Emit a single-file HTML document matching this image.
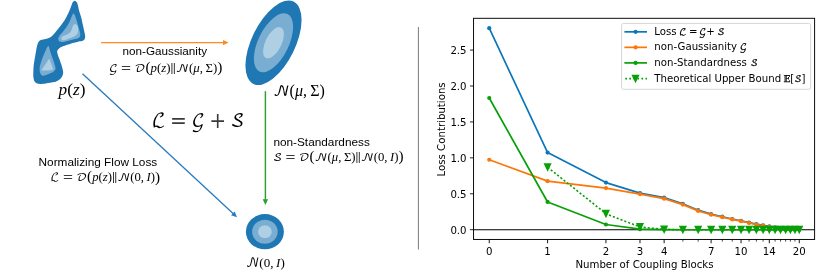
<!DOCTYPE html>
<html><head><meta charset="utf-8"><title>Loss decomposition</title>
<style>html,body{margin:0;padding:0;background:#fff}svg{display:block}</style></head>
<body>
<svg width="830" height="272" viewBox="0 0 830 272">
<defs><clipPath id="axclip"><rect x="473.55" y="18.3" width="341.05" height="221.14999999999998"/></clipPath></defs>
<rect width="830" height="272" fill="#fff"/>
<path d="M74.70 0.70C75.37 0.70 76.27 1.43 76.80 2.20C77.33 2.97 77.50 3.83 77.90 5.30C78.30 6.77 78.65 8.95 79.20 11.00C79.75 13.05 80.53 15.02 81.20 17.60C81.87 20.18 82.58 23.72 83.20 26.50C83.82 29.28 84.60 32.38 84.90 34.30C85.20 36.22 85.28 36.95 85.00 38.00C84.72 39.05 84.37 39.97 83.20 40.60C82.03 41.23 80.20 41.25 78.00 41.80C75.80 42.35 72.42 43.18 70.00 43.90C67.58 44.62 65.20 45.42 63.50 46.10C61.80 46.78 60.83 47.22 59.80 48.00C58.77 48.78 57.67 49.80 57.30 50.80C56.93 51.80 57.33 52.83 57.60 54.00C57.87 55.17 58.28 56.05 58.90 57.80C59.52 59.55 60.60 62.22 61.30 64.50C62.00 66.78 62.87 69.75 63.10 71.50C63.33 73.25 63.07 73.87 62.70 75.00C62.33 76.13 61.68 77.37 60.90 78.30C60.12 79.23 59.08 79.97 58.00 80.60C56.92 81.23 56.43 81.63 54.40 82.10C52.37 82.57 48.12 83.10 45.80 83.40C43.48 83.70 42.05 83.92 40.50 83.90C38.95 83.88 37.53 83.78 36.50 83.30C35.47 82.82 34.82 82.05 34.30 81.00C33.78 79.95 33.57 78.28 33.40 77.00C33.23 75.72 33.23 75.38 33.30 73.30C33.37 71.22 33.47 67.45 33.80 64.50C34.13 61.55 34.83 58.35 35.30 55.60C35.77 52.85 36.18 50.02 36.60 48.00C37.02 45.98 37.35 44.67 37.80 43.50C38.25 42.33 38.67 41.62 39.30 41.00C39.93 40.38 40.57 40.13 41.60 39.80C42.63 39.47 44.18 39.33 45.50 39.00C46.82 38.67 48.33 38.37 49.50 37.80C50.67 37.23 51.42 36.65 52.50 35.60C53.58 34.55 54.75 33.02 56.00 31.50C57.25 29.98 58.83 28.00 60.00 26.50C61.17 25.00 61.97 23.98 63.00 22.50C64.03 21.02 65.12 19.58 66.20 17.60C67.28 15.62 68.62 12.65 69.50 10.60C70.38 8.55 70.95 6.70 71.50 5.30C72.05 3.90 72.27 2.97 72.80 2.20C73.33 1.43 74.03 0.70 74.70 0.70Z" fill="#1f77b4"/>
<path d="M73.80 13.50C74.45 14.00 75.23 16.33 76.00 18.50C76.77 20.67 77.73 24.17 78.40 26.50C79.07 28.83 79.70 30.95 80.00 32.50C80.30 34.05 80.43 34.90 80.20 35.80C79.97 36.70 79.63 37.32 78.60 37.90C77.57 38.48 75.77 38.82 74.00 39.30C72.23 39.78 69.83 40.37 68.00 40.80C66.17 41.23 64.40 41.78 63.00 41.90C61.60 42.02 60.40 41.98 59.60 41.50C58.80 41.02 58.20 39.98 58.20 39.00C58.20 38.02 58.72 36.93 59.60 35.60C60.48 34.27 62.23 32.60 63.50 31.00C64.77 29.40 66.12 27.72 67.20 26.00C68.28 24.28 69.18 22.45 70.00 20.70C70.82 18.95 71.47 16.70 72.10 15.50C72.73 14.30 73.15 13.00 73.80 13.50Z" fill="#79add2"/><path d="M75.20 24.00C75.92 24.07 76.90 25.00 77.40 26.00C77.90 27.00 78.18 28.73 78.20 30.00C78.22 31.27 78.07 32.57 77.50 33.60C76.93 34.63 76.23 35.40 74.80 36.20C73.37 37.00 70.53 37.77 68.90 38.40C67.27 39.03 66.10 39.70 65.00 40.00C63.90 40.30 62.92 40.43 62.30 40.20C61.68 39.97 61.30 39.23 61.30 38.60C61.30 37.97 61.35 37.10 62.30 36.40C63.25 35.70 65.67 35.10 67.00 34.40C68.33 33.70 69.48 33.10 70.30 32.20C71.12 31.30 71.43 30.10 71.90 29.00C72.37 27.90 72.55 26.43 73.10 25.60C73.65 24.77 74.48 23.93 75.20 24.00Z" fill="#afcfe5"/><path d="M48.60 46.20C49.03 46.67 49.30 48.43 49.80 50.00C50.30 51.57 50.87 53.43 51.60 55.60C52.33 57.77 53.57 61.03 54.20 63.00C54.83 64.97 55.23 66.27 55.40 67.40C55.57 68.53 55.67 69.00 55.20 69.80C54.73 70.60 53.80 71.47 52.60 72.20C51.40 72.93 49.35 73.63 48.00 74.20C46.65 74.77 45.50 75.40 44.50 75.60C43.50 75.80 42.67 75.70 42.00 75.40C41.33 75.10 40.88 74.53 40.50 73.80C40.12 73.07 39.83 72.13 39.70 71.00C39.57 69.87 39.52 68.33 39.70 67.00C39.88 65.67 40.37 64.42 40.80 63.00C41.23 61.58 41.57 60.42 42.30 58.50C43.03 56.58 44.38 53.38 45.20 51.50C46.02 49.62 46.63 48.08 47.20 47.20C47.77 46.32 48.17 45.73 48.60 46.20Z" fill="#79add2"/><path d="M49.40 59.00C49.80 59.33 50.07 60.58 50.60 62.00C51.13 63.42 52.20 66.30 52.60 67.50C53.00 68.70 53.18 68.80 53.00 69.20C52.82 69.60 52.83 69.67 51.50 69.90C50.17 70.13 46.53 70.48 45.00 70.60C43.47 70.72 42.83 70.77 42.30 70.60C41.77 70.43 41.60 70.20 41.80 69.60C42.00 69.00 42.75 68.10 43.50 67.00C44.25 65.90 45.52 64.17 46.30 63.00C47.08 61.83 47.68 60.67 48.20 60.00C48.72 59.33 49.00 58.67 49.40 59.00Z" fill="#afcfe5"/>
<ellipse cx="273.5" cy="42.75" rx="45.80" ry="21.80" transform="rotate(-64 273.5 42.75)" fill="#1f77b4"/>
<ellipse cx="273.5" cy="42.75" rx="32.06" ry="15.26" transform="rotate(-64 273.5 42.75)" fill="#79add2"/>
<ellipse cx="273.5" cy="42.75" rx="17.04" ry="8.11" transform="rotate(-64 273.5 42.75)" fill="#afcfe5"/>
<ellipse cx="264.9" cy="231.7" rx="19" ry="17.6" fill="#1f77b4"/>
<ellipse cx="264.9" cy="231.7" rx="12.8" ry="12.0" fill="#79add2"/>
<ellipse cx="264.9" cy="231.7" rx="6.9" ry="6.35" fill="#afcfe5"/>
<line x1="101.00" y1="42.60" x2="224.00" y2="42.60" stroke="#ff8a25" stroke-width="1.45"/><path d="M228.60 42.60L223.00 45.30L223.00 39.90Z" fill="#ff8a25"/>
<line x1="265.40" y1="91.20" x2="265.40" y2="200.30" stroke="#2ca02c" stroke-width="1.45"/><path d="M265.40 204.90L262.70 199.30L268.10 199.30Z" fill="#2ca02c"/>
<line x1="82.50" y1="73.80" x2="233.63" y2="214.07" stroke="#2a7abf" stroke-width="1.3"/><path d="M237.00 217.20L231.06 215.37L234.73 211.41Z" fill="#2a7abf"/>
<line x1="418.4" x2="418.4" y1="27" y2="249.5" stroke="#7a7a7a" stroke-width="1"/>
<text x="164.8" y="55.3" text-anchor="middle" font-family="'Liberation Sans', sans-serif" font-size="11.7" fill="#000">non-Gaussianity</text>
<text x="97.9" y="166.4" text-anchor="middle" font-family="'Liberation Sans', sans-serif" font-size="11.8" fill="#000">Normalizing Flow Loss</text>
<text x="273.4" y="146.1" font-family="'Liberation Sans', sans-serif" font-size="11.8" fill="#000">non-Standardness</text>
<text x="108.7" y="71.5" font-family="'Liberation Serif', serif" font-size="12.5" fill="#000" textLength="113.6" lengthAdjust="spacingAndGlyphs"><tspan font-family="'DejaVu Math TeX Gyre','DejaVu Serif',serif" font-size="0.92em">𝒢</tspan> <tspan font-family="'DejaVu Math TeX Gyre','DejaVu Serif',serif" font-size="1.04em" fill="#3a3a3a">=</tspan> <tspan font-family="'DejaVu Math TeX Gyre','DejaVu Serif',serif" font-size="0.92em">𝒟</tspan><tspan font-size="1.2em" dy="0.03em">(</tspan><tspan dy="-0.036em"><tspan font-style="italic">p</tspan></tspan>(<tspan font-style="italic">z</tspan>)<tspan font-family="'DejaVu Math TeX Gyre','DejaVu Serif',serif">‖</tspan><tspan font-family="'DejaVu Math TeX Gyre','DejaVu Serif',serif" font-size="0.92em">𝒩</tspan>(<tspan font-style="italic">μ</tspan>, Σ)<tspan font-size="1.2em" dy="0.035em">)</tspan></text>
<text x="50.5" y="181" font-family="'Liberation Serif', serif" font-size="12.5" fill="#000" textLength="109.7" lengthAdjust="spacingAndGlyphs"><tspan font-family="'DejaVu Math TeX Gyre','DejaVu Serif',serif" font-size="0.92em">ℒ</tspan> <tspan font-family="'DejaVu Math TeX Gyre','DejaVu Serif',serif" font-size="1.04em" fill="#3a3a3a">=</tspan> <tspan font-family="'DejaVu Math TeX Gyre','DejaVu Serif',serif" font-size="0.92em">𝒟</tspan><tspan font-size="1.2em" dy="0.03em">(</tspan><tspan dy="-0.036em"><tspan font-style="italic">p</tspan></tspan>(<tspan font-style="italic">z</tspan>)<tspan font-family="'DejaVu Math TeX Gyre','DejaVu Serif',serif">‖</tspan><tspan font-family="'DejaVu Math TeX Gyre','DejaVu Serif',serif" font-size="0.92em">𝒩</tspan>(0, <tspan font-style="italic">I</tspan>)<tspan font-size="1.2em" dy="0.035em">)</tspan></text>
<text x="273" y="160.8" font-family="'Liberation Serif', serif" font-size="12.5" fill="#000" textLength="130.6" lengthAdjust="spacingAndGlyphs"><tspan font-family="'DejaVu Math TeX Gyre','DejaVu Serif',serif" font-size="0.92em">𝒮</tspan> <tspan font-family="'DejaVu Math TeX Gyre','DejaVu Serif',serif" font-size="1.04em" fill="#3a3a3a">=</tspan> <tspan font-family="'DejaVu Math TeX Gyre','DejaVu Serif',serif" font-size="0.92em">𝒟</tspan><tspan font-size="1.2em" dy="0.03em">(</tspan><tspan dy="-0.036em"><tspan font-family="'DejaVu Math TeX Gyre','DejaVu Serif',serif" font-size="0.92em">𝒩</tspan></tspan>(<tspan font-style="italic">μ</tspan>, Σ)<tspan font-family="'DejaVu Math TeX Gyre','DejaVu Serif',serif">‖</tspan><tspan font-family="'DejaVu Math TeX Gyre','DejaVu Serif',serif" font-size="0.92em">𝒩</tspan>(0, <tspan font-style="italic">I</tspan>)<tspan font-size="1.2em" dy="0.035em">)</tspan></text>
<text x="152" y="126.5" font-family="'Liberation Serif', serif" font-size="21" fill="#000" textLength="92.1" lengthAdjust="spacingAndGlyphs"><tspan font-family="'DejaVu Math TeX Gyre','DejaVu Serif',serif" font-size="0.92em">ℒ</tspan> <tspan font-family="'DejaVu Math TeX Gyre','DejaVu Serif',serif" font-size="1.04em" fill="#3a3a3a">=</tspan> <tspan font-family="'DejaVu Math TeX Gyre','DejaVu Serif',serif" font-size="0.92em">𝒢</tspan> <tspan font-family="'DejaVu Math TeX Gyre','DejaVu Serif',serif" font-size="1.04em" fill="#3a3a3a">+</tspan> <tspan font-family="'DejaVu Math TeX Gyre','DejaVu Serif',serif" font-size="0.92em">𝒮</tspan></text>
<text x="58.6" y="95.2" font-family="'Liberation Serif', serif" font-size="16" fill="#000" textLength="26.8" lengthAdjust="spacingAndGlyphs"><tspan font-style="italic">p</tspan>(<tspan font-style="italic">z</tspan>)</text>
<text x="273.2" y="95.6" font-family="'Liberation Serif', serif" font-size="16" fill="#000" textLength="51.6" lengthAdjust="spacingAndGlyphs"><tspan font-family="'DejaVu Math TeX Gyre','DejaVu Serif',serif" font-size="0.92em">𝒩</tspan>(<tspan font-style="italic">μ</tspan>, Σ)</text>
<text x="246.0" y="266.5" font-family="'Liberation Serif', serif" font-size="13" fill="#000" textLength="38.8" lengthAdjust="spacingAndGlyphs"><tspan font-family="'DejaVu Math TeX Gyre','DejaVu Serif',serif" font-size="0.92em">𝒩</tspan>(0, <tspan font-style="italic">I</tspan>)</text>
<g clip-path="url(#axclip)">
<line x1="473.55" x2="814.6" y1="229.7" y2="229.7" stroke="#000" stroke-width="1.05"/>
<polyline points="489.25,28.15 547.60,152.57 605.95,182.59 639.99,193.10 664.14,197.64 682.87,203.83 698.18,210.17 711.12,214.13 722.33,216.72 732.22,219.02 741.06,220.82 749.06,222.62 756.37,224.13 763.09,225.36 769.31,226.44 775.10,227.30 780.52,227.95 785.61,228.53 790.41,228.96 794.95,229.32 799.25,229.53" fill="none" stroke="#0b77ba" stroke-width="1.7" stroke-linejoin="round"/>
<circle cx="489.25" cy="28.15" r="2.1" fill="#0b77ba"/><circle cx="547.60" cy="152.57" r="2.1" fill="#0b77ba"/><circle cx="605.95" cy="182.59" r="2.1" fill="#0b77ba"/><circle cx="639.99" cy="193.10" r="2.1" fill="#0b77ba"/><circle cx="664.14" cy="197.64" r="2.1" fill="#0b77ba"/><circle cx="682.87" cy="203.83" r="2.1" fill="#0b77ba"/><circle cx="698.18" cy="210.17" r="2.1" fill="#0b77ba"/><circle cx="711.12" cy="214.13" r="2.1" fill="#0b77ba"/><circle cx="722.33" cy="216.72" r="2.1" fill="#0b77ba"/><circle cx="732.22" cy="219.02" r="2.1" fill="#0b77ba"/><circle cx="741.06" cy="220.82" r="2.1" fill="#0b77ba"/><circle cx="749.06" cy="222.62" r="2.1" fill="#0b77ba"/><circle cx="756.37" cy="224.13" r="2.1" fill="#0b77ba"/><circle cx="763.09" cy="225.36" r="2.1" fill="#0b77ba"/><circle cx="769.31" cy="226.44" r="2.1" fill="#0b77ba"/><circle cx="775.10" cy="227.30" r="2.1" fill="#0b77ba"/><circle cx="780.52" cy="227.95" r="2.1" fill="#0b77ba"/><circle cx="785.61" cy="228.53" r="2.1" fill="#0b77ba"/><circle cx="790.41" cy="228.96" r="2.1" fill="#0b77ba"/><circle cx="794.95" cy="229.32" r="2.1" fill="#0b77ba"/><circle cx="799.25" cy="229.53" r="2.1" fill="#0b77ba"/>

<polyline points="489.25,159.77 547.60,181.15 605.95,188.06 639.99,194.11 664.14,198.65 682.87,204.62 698.18,210.89 711.12,214.70 722.33,217.22 732.22,219.45 741.06,221.18 749.06,222.98 756.37,224.49 763.09,225.72 769.31,226.73 775.10,227.52 780.52,228.17 785.61,228.67 790.41,229.03 794.95,229.39 799.25,229.61" fill="none" stroke="#fd7608" stroke-width="1.7" stroke-linejoin="round"/>
<circle cx="489.25" cy="159.77" r="2.1" fill="#fd7608"/><circle cx="547.60" cy="181.15" r="2.1" fill="#fd7608"/><circle cx="605.95" cy="188.06" r="2.1" fill="#fd7608"/><circle cx="639.99" cy="194.11" r="2.1" fill="#fd7608"/><circle cx="664.14" cy="198.65" r="2.1" fill="#fd7608"/><circle cx="682.87" cy="204.62" r="2.1" fill="#fd7608"/><circle cx="698.18" cy="210.89" r="2.1" fill="#fd7608"/><circle cx="711.12" cy="214.70" r="2.1" fill="#fd7608"/><circle cx="722.33" cy="217.22" r="2.1" fill="#fd7608"/><circle cx="732.22" cy="219.45" r="2.1" fill="#fd7608"/><circle cx="741.06" cy="221.18" r="2.1" fill="#fd7608"/><circle cx="749.06" cy="222.98" r="2.1" fill="#fd7608"/><circle cx="756.37" cy="224.49" r="2.1" fill="#fd7608"/><circle cx="763.09" cy="225.72" r="2.1" fill="#fd7608"/><circle cx="769.31" cy="226.73" r="2.1" fill="#fd7608"/><circle cx="775.10" cy="227.52" r="2.1" fill="#fd7608"/><circle cx="780.52" cy="228.17" r="2.1" fill="#fd7608"/><circle cx="785.61" cy="228.67" r="2.1" fill="#fd7608"/><circle cx="790.41" cy="229.03" r="2.1" fill="#fd7608"/><circle cx="794.95" cy="229.39" r="2.1" fill="#fd7608"/><circle cx="799.25" cy="229.61" r="2.1" fill="#fd7608"/>

<polyline points="489.25,97.99 547.60,201.96 605.95,224.49 639.99,229.17 664.14,229.61 682.87,229.75 698.18,229.75 711.12,229.75 722.33,229.75 732.22,229.75 741.06,229.75 749.06,229.75 756.37,229.75 763.09,229.75 769.31,229.75 775.10,229.75 780.52,229.75 785.61,229.75 790.41,229.75 794.95,229.75 799.25,229.75" fill="none" stroke="#08a008" stroke-width="1.7" stroke-linejoin="round"/>
<circle cx="489.25" cy="97.99" r="2.1" fill="#08a008"/><circle cx="547.60" cy="201.96" r="2.1" fill="#08a008"/><circle cx="605.95" cy="224.49" r="2.1" fill="#08a008"/><circle cx="639.99" cy="229.17" r="2.1" fill="#08a008"/><circle cx="664.14" cy="229.61" r="2.1" fill="#08a008"/><circle cx="682.87" cy="229.75" r="2.1" fill="#08a008"/><circle cx="698.18" cy="229.75" r="2.1" fill="#08a008"/><circle cx="711.12" cy="229.75" r="2.1" fill="#08a008"/><circle cx="722.33" cy="229.75" r="2.1" fill="#08a008"/><circle cx="732.22" cy="229.75" r="2.1" fill="#08a008"/><circle cx="741.06" cy="229.75" r="2.1" fill="#08a008"/><circle cx="749.06" cy="229.75" r="2.1" fill="#08a008"/><circle cx="756.37" cy="229.75" r="2.1" fill="#08a008"/><circle cx="763.09" cy="229.75" r="2.1" fill="#08a008"/><circle cx="769.31" cy="229.75" r="2.1" fill="#08a008"/><circle cx="775.10" cy="229.75" r="2.1" fill="#08a008"/><circle cx="780.52" cy="229.75" r="2.1" fill="#08a008"/><circle cx="785.61" cy="229.75" r="2.1" fill="#08a008"/><circle cx="790.41" cy="229.75" r="2.1" fill="#08a008"/><circle cx="794.95" cy="229.75" r="2.1" fill="#08a008"/><circle cx="799.25" cy="229.75" r="2.1" fill="#08a008"/>

<polyline points="547.60,167.25 605.95,213.69 639.99,227.01 664.14,229.46 682.87,229.75 698.18,229.75 711.12,229.75 722.33,229.75 732.22,229.75 741.06,229.75 749.06,229.75 756.37,229.75 763.09,229.75 769.31,229.75 775.10,229.75 780.52,229.75 785.61,229.75 790.41,229.75 794.95,229.75 799.25,229.75" fill="none" stroke="#08a008" stroke-width="1.6" stroke-linejoin="round" stroke-dasharray="2.1 2.0"/>
<path d="M543.55 163.35H551.65L547.60 171.80Z" fill="#08a008"/><path d="M601.90 209.79H610.00L605.95 218.24Z" fill="#08a008"/><path d="M635.94 223.11H644.04L639.99 231.56Z" fill="#08a008"/><path d="M660.09 225.56H668.19L664.14 234.01Z" fill="#08a008"/><path d="M678.82 225.85H686.92L682.87 234.30Z" fill="#08a008"/><path d="M694.13 225.85H702.23L698.18 234.30Z" fill="#08a008"/><path d="M707.07 225.85H715.17L711.12 234.30Z" fill="#08a008"/><path d="M718.28 225.85H726.38L722.33 234.30Z" fill="#08a008"/><path d="M728.17 225.85H736.27L732.22 234.30Z" fill="#08a008"/><path d="M737.01 225.85H745.11L741.06 234.30Z" fill="#08a008"/><path d="M745.01 225.85H753.11L749.06 234.30Z" fill="#08a008"/><path d="M752.32 225.85H760.42L756.37 234.30Z" fill="#08a008"/><path d="M759.04 225.85H767.14L763.09 234.30Z" fill="#08a008"/><path d="M765.26 225.85H773.36L769.31 234.30Z" fill="#08a008"/><path d="M771.05 225.85H779.15L775.10 234.30Z" fill="#08a008"/><path d="M776.47 225.85H784.57L780.52 234.30Z" fill="#08a008"/><path d="M781.56 225.85H789.66L785.61 234.30Z" fill="#08a008"/><path d="M786.36 225.85H794.46L790.41 234.30Z" fill="#08a008"/><path d="M790.90 225.85H799.00L794.95 234.30Z" fill="#08a008"/><path d="M795.20 225.85H803.30L799.25 234.30Z" fill="#08a008"/>

</g>
<rect x="473.55" y="18.3" width="341.05" height="221.14999999999998" fill="none" stroke="#000" stroke-width="0.95"/>
<line x1="489.25" x2="489.25" y1="239.45" y2="243.25" stroke="#000" stroke-width="0.9"/><line x1="547.60" x2="547.60" y1="239.45" y2="243.25" stroke="#000" stroke-width="0.9"/><line x1="605.95" x2="605.95" y1="239.45" y2="243.25" stroke="#000" stroke-width="0.9"/><line x1="639.99" x2="639.99" y1="239.45" y2="243.25" stroke="#000" stroke-width="0.9"/><line x1="664.14" x2="664.14" y1="239.45" y2="243.25" stroke="#000" stroke-width="0.9"/><line x1="682.87" x2="682.87" y1="239.45" y2="241.64999999999998" stroke="#000" stroke-width="0.7"/><line x1="698.18" x2="698.18" y1="239.45" y2="241.64999999999998" stroke="#000" stroke-width="0.7"/><line x1="711.12" x2="711.12" y1="239.45" y2="243.25" stroke="#000" stroke-width="0.9"/><line x1="722.33" x2="722.33" y1="239.45" y2="241.64999999999998" stroke="#000" stroke-width="0.7"/><line x1="732.22" x2="732.22" y1="239.45" y2="241.64999999999998" stroke="#000" stroke-width="0.7"/><line x1="741.06" x2="741.06" y1="239.45" y2="243.25" stroke="#000" stroke-width="0.9"/><line x1="749.06" x2="749.06" y1="239.45" y2="241.64999999999998" stroke="#000" stroke-width="0.7"/><line x1="756.37" x2="756.37" y1="239.45" y2="241.64999999999998" stroke="#000" stroke-width="0.7"/><line x1="763.09" x2="763.09" y1="239.45" y2="241.64999999999998" stroke="#000" stroke-width="0.7"/><line x1="769.31" x2="769.31" y1="239.45" y2="243.25" stroke="#000" stroke-width="0.9"/><line x1="775.10" x2="775.10" y1="239.45" y2="241.64999999999998" stroke="#000" stroke-width="0.7"/><line x1="780.52" x2="780.52" y1="239.45" y2="241.64999999999998" stroke="#000" stroke-width="0.7"/><line x1="785.61" x2="785.61" y1="239.45" y2="241.64999999999998" stroke="#000" stroke-width="0.7"/><line x1="790.41" x2="790.41" y1="239.45" y2="241.64999999999998" stroke="#000" stroke-width="0.7"/><line x1="794.95" x2="794.95" y1="239.45" y2="241.64999999999998" stroke="#000" stroke-width="0.7"/><line x1="799.25" x2="799.25" y1="239.45" y2="243.25" stroke="#000" stroke-width="0.9"/><line x1="469.95" x2="473.55" y1="229.70" y2="229.70" stroke="#000" stroke-width="0.85"/><line x1="469.95" x2="473.55" y1="193.77" y2="193.77" stroke="#000" stroke-width="0.85"/><line x1="469.95" x2="473.55" y1="157.85" y2="157.85" stroke="#000" stroke-width="0.85"/><line x1="469.95" x2="473.55" y1="121.92" y2="121.92" stroke="#000" stroke-width="0.85"/><line x1="469.95" x2="473.55" y1="86.00" y2="86.00" stroke="#000" stroke-width="0.85"/><line x1="469.95" x2="473.55" y1="50.07" y2="50.07" stroke="#000" stroke-width="0.85"/>
<g font-family="'DejaVu Sans', sans-serif" font-size="10.2" fill="#000"><text x="489.25" y="254.5" text-anchor="middle">0</text><text x="547.60" y="254.5" text-anchor="middle">1</text><text x="605.95" y="254.5" text-anchor="middle">2</text><text x="639.99" y="254.5" text-anchor="middle">3</text><text x="664.14" y="254.5" text-anchor="middle">4</text><text x="711.12" y="254.5" text-anchor="middle">7</text><text x="741.06" y="254.5" text-anchor="middle">10</text><text x="769.31" y="254.5" text-anchor="middle">14</text><text x="799.25" y="254.5" text-anchor="middle">20</text><text x="466.6" y="233.55" text-anchor="end">0.0</text><text x="466.6" y="197.62" text-anchor="end">0.5</text><text x="466.6" y="161.70" text-anchor="end">1.0</text><text x="466.6" y="125.77" text-anchor="end">1.5</text><text x="466.6" y="89.85" text-anchor="end">2.0</text><text x="466.6" y="53.92" text-anchor="end">2.5</text><text x="644.5" y="268.4" text-anchor="middle">Number of Coupling Blocks</text><text transform="translate(444.8 129.4) rotate(-90)" text-anchor="middle">Loss Contributions</text></g>
<rect x="621.6" y="23.4" width="189.10000000000002" height="65.9" rx="2" ry="2" fill="#fff" fill-opacity="0.8" stroke="#d6d6d6" stroke-width="1"/><line x1="624.4" x2="647.0" y1="31.85" y2="31.85" stroke="#0b77ba" stroke-width="1.7"/><circle cx="635.6" cy="31.85" r="2.1" fill="#0b77ba"/><text x="654.3" y="34.90" font-family="'DejaVu Sans', sans-serif" font-size="10.2" fill="#000">Loss<tspan font-family="'DejaVu Math TeX Gyre','DejaVu Sans',sans-serif" font-size="9.4" x="679.2" stroke="#000" stroke-width="0.25">ℒ</tspan><tspan x="689.0">=</tspan><tspan font-family="'DejaVu Math TeX Gyre','DejaVu Sans',sans-serif" font-size="9.4" x="698.9" stroke="#000" stroke-width="0.25">𝒢</tspan><tspan x="706.2">+</tspan><tspan font-family="'DejaVu Math TeX Gyre','DejaVu Sans',sans-serif" font-size="9.4" x="717.2" stroke="#000" stroke-width="0.25">𝒮</tspan></text><line x1="624.4" x2="647.0" y1="47.35" y2="47.35" stroke="#fd7608" stroke-width="1.7"/><circle cx="635.6" cy="47.35" r="2.1" fill="#fd7608"/><text x="654.3" y="50.40" font-family="'DejaVu Sans', sans-serif" font-size="10.2" fill="#000">non-Gaussianity<tspan font-family="'DejaVu Math TeX Gyre','DejaVu Sans',sans-serif" font-size="9.4" x="739.7" stroke="#000" stroke-width="0.25">𝒢</tspan></text><line x1="624.4" x2="647.0" y1="62.9" y2="62.9" stroke="#08a008" stroke-width="1.7"/><circle cx="635.6" cy="62.9" r="2.1" fill="#08a008"/><text x="654.3" y="65.95" font-family="'DejaVu Sans', sans-serif" font-size="10.2" fill="#000">non-Standardness<tspan font-family="'DejaVu Math TeX Gyre','DejaVu Sans',sans-serif" font-size="9.4" x="750.5" stroke="#000" stroke-width="0.25">𝒮</tspan></text><line x1="624.4" x2="647.0" y1="78.6" y2="78.6" stroke="#08a008" stroke-width="1.6" stroke-dasharray="1.7 2.35" stroke-dashoffset="-0.85"/><path d="M631.45 74.85H639.55L635.50 83.30Z" fill="#08a008"/><text x="654.3" y="81.65" font-family="'DejaVu Sans', sans-serif" font-size="10.2" fill="#000">Theoretical Upper Bound<tspan font-family="'DejaVu Math TeX Gyre','DejaVu Sans',sans-serif" font-size="9.0" x="783.3" stroke="#000" stroke-width="0.25">𝔼</tspan><tspan x="790.3">[</tspan><tspan font-family="'DejaVu Math TeX Gyre','DejaVu Sans',sans-serif" font-size="9.4" x="794.3" stroke="#000" stroke-width="0.25">𝒮</tspan><tspan x="801.4">]</tspan></text>
</svg>
</body></html>
